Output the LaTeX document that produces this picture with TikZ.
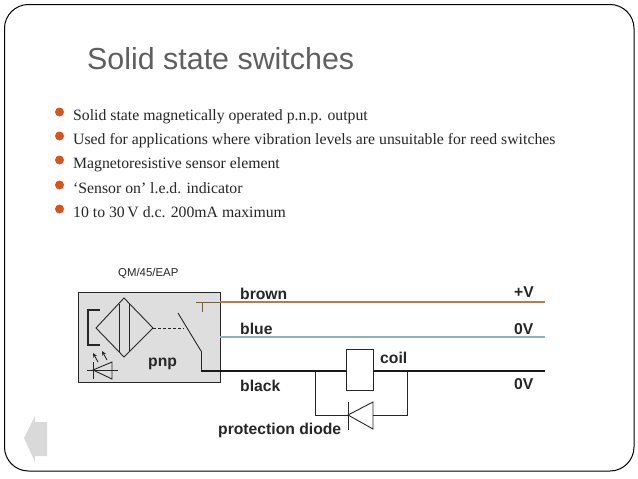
\documentclass[tikz,border=0pt]{standalone}
\usepackage{fontspec}
\setmainfont{Liberation Serif}
\newfontfamily\arialf{Liberation Sans}
\usetikzlibrary{arrows.meta}
\definecolor{bul}{HTML}{D2561F}
\definecolor{titlec}{HTML}{5F5F5F}
\definecolor{wbrown}{HTML}{A9805A}
\definecolor{wblue}{HTML}{93B0B6}
\tikzset{
 titletxt/.style={anchor=base west,inner sep=0,text=titlec,font=\arialf\fontsize{30.4}{31}\selectfont},
 bodytxt/.style={anchor=base west,inner sep=0,text=black!85,font=\fontsize{15.76}{16}\selectfont},
 bulletdot/.style={circle,fill=bul,draw=none,minimum size=9pt,inner sep=0},
 wirelabel/.style={anchor=base west,inner sep=0,text=black!85,font=\arialf\bfseries\fontsize{15.7}{16}\selectfont},
 smalllabel/.style={anchor=base west,inner sep=0,text=black!85,font=\arialf\fontsize{11.4}{12}\selectfont},
 thin wire/.style={line width=0.9pt,black!85},
}
\begin{document}
\begin{tikzpicture}[x=1pt,y=-1pt]
\useasboundingbox (0,0) rectangle (638,479);
\fill[white] (0,0) rectangle (638,479);
% slide frame
\draw[line width=1pt,black,rounded corners=24pt] (4.5,4.5) rectangle (634,471);
% back arrow
\fill[black!15] (24,438) -- (35,416) -- (35,422) -- (47,422) -- (47,456) -- (35,456) -- (35,462) -- cycle;
% title
\node[titletxt] (title) at (87,69) {Solid state switches};
% bullets
\foreach \n/\yb/\t in {a/120/Solid state magnetically operated p.n.p. output,
 b/144/Used for applications where vibration levels are unsuitable for reed switches,
 c/168/Magnetoresistive sensor element,
 d/193/‘Sensor on’ l.e.d. indicator,
 e/217/10 to 30\,V d.c. 200mA maximum}{
  \node[bulletdot] (dot\n) at (59.5,\yb-8) {};
  \node[bodytxt] (txt\n) at (73,\yb) {\t};
}
% sensor box
\node[smalllabel] (code) at (118,276) {QM/45/EAP};
\draw[line width=0.9pt,black!85,fill=black!13] (78,292) rectangle (220,382);
% named points
\coordinate (brownL) at (196,302);
\coordinate (brownT) at (202,302);
\coordinate (brownTe) at (202,312);
\coordinate (brownB) at (220,302);
\coordinate (brownR) at (545,302);
\coordinate (blueL) at (220,337);
\coordinate (blueR) at (545,337);
\coordinate (swTop) at (178,313);
\coordinate (swBot) at (201,351);
\coordinate (blackL) at (201,371);
\coordinate (blackR) at (545,371);
\coordinate (loopL) at (315,371);
\coordinate (loopR) at (407,371);
\coordinate (loopBL) at (315,415);
\coordinate (loopBR) at (407,415);
\coordinate (dTip) at (348,415);
% wires
\draw[wbrown,line width=1.8pt] (brownB) -- (brownR);
\draw[wbrown!70!black,line width=0.8pt] (brownL) -- (brownB);
\draw[wbrown!70!black,line width=0.8pt] (brownT) -- (brownTe);
\draw[wblue,line width=2pt] (blueL) -- (blueR);
\draw[thin wire] (swBot) -- (blackL);
\draw[black!90,line width=1.9pt] (blackL) -- (blackR);
\draw[thin wire] (swTop) -- (swBot);
\draw[thin wire,dash pattern=on 3pt off 2pt] (153,328) -- (184,328);
% coil + loop
\node[draw=black!85,line width=0.9pt,fill=white,minimum width=27pt,minimum height=41pt,inner sep=0,anchor=north west] (coil) at (346,349) {};
\draw[thin wire] (loopL) -- (loopBL) -- (dTip);
\draw[thin wire] (loopR) -- (loopBR) -- (373,415);
\draw[thin wire] (348,402) -- (348,430);
\draw[thin wire] (dTip) -- (373,402) -- (373,429) -- cycle;
% sensor symbol
\draw[thin wire] (96,328) -- (124,298) -- (153,328) -- (124,357) -- cycle;
\draw[thin wire] (119,304) -- (119,352);
\draw[thin wire] (129,304) -- (129,352);
\draw[line width=1.2pt,black!85] (100,310) -- (88,310) -- (88,345) -- (100,345);
% led
\draw[thin wire] (87,370) -- (118,370);
\draw[thin wire] (93,362) -- (93,379);
\draw[thin wire] (93,370) -- (112,362) -- (112,379) -- cycle;
\draw[thin wire,-{Stealth[length=4.5pt,width=4pt]}] (98,362) -- (93,353);
\draw[thin wire,-{Stealth[length=4.5pt,width=4pt]}] (107,360) -- (102,351);
% labels
\node[wirelabel] (lpnp) at (148,366) {pnp};
\node[wirelabel] (lbrown) at (240,299) {brown};
\node[wirelabel] (lblue) at (240,334) {blue};
\node[wirelabel] (lblack) at (240,391) {black};
\node[wirelabel] (lcoil) at (380,363) {coil};
\node[wirelabel] (lpv) at (514,297) {+V};
\node[wirelabel] (l0a) at (514,334) {0V};
\node[wirelabel] (l0b) at (514,389) {0V};
\node[wirelabel] (lprot) at (218,434) {protection diode};
\end{tikzpicture}
\end{document}
